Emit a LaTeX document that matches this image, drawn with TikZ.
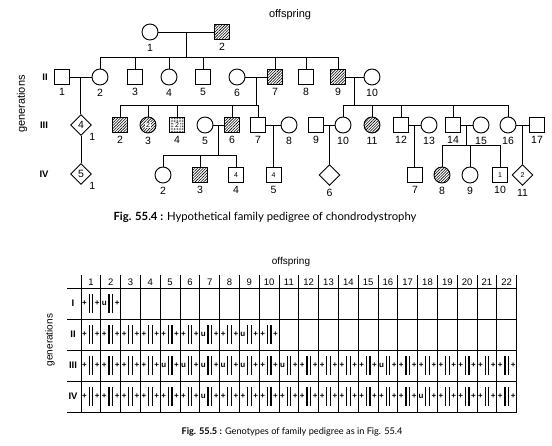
\documentclass[tikz,border=0pt]{standalone}
\usepackage{fontspec}
\setmainfont{Liberation Sans}
\newfontfamily\capfont{Lato}
\usetikzlibrary{shapes.geometric,patterns.meta}
\newcommand\wnum[1]{{\setlength\fboxsep{0.6pt}\colorbox{white}{\scriptsize#1}}}

\begin{document}
\begin{tikzpicture}[x=1pt, y=-1pt,
		font=\fontsize{10.5}{11}\selectfont,
		line width=0.95pt,
		label distance=2pt,
		every label/.style = {inner sep=1pt},
		M/.style = {rectangle, draw, minimum size=15pt, inner sep=0pt, label={below:#1}},% male
		F/.style = {circle, draw, minimum size=16pt, inner sep=0pt, label={below:#1}},% female
		D/.style = {diamond, draw, minimum size=21pt, inner sep=0pt},% sex unknown
		U/.style = {D, label={below:#1}},
		hatch/.style = {pattern={Lines[angle=45,distance=2pt,line width=0.6pt]}},
		dots/.style = {pattern={Dots[distance=1.6pt,radius=0.45pt]}},
		gen/.style = {font=\bfseries\fontsize{9.5}{10}\selectfont},
		pics/gt/.style = {code={% one genotype: allele || allele
				\draw[line width=1.2pt] (-1.8,-9.5) -- (-1.8,9.5) (1.8,-9.5) -- (1.8,9.5);
				\node[font=\bfseries\fontsize{8}{8}\selectfont, inner sep=0pt] (l) at (-6.4,0) {#1};
				\node[font=\bfseries\fontsize{8}{8}\selectfont, inner sep=0pt] (r) at (6.4,0) {+};
		}},
		]
		\useasboundingbox (0,0) rectangle (552,445);
		
		% ---------- Fig. 55.4 : pedigree ----------
		\node[font=\fontsize{11}{12}\selectfont] (off1) at (290,15) {offspring};
		\node[rotate=90, font=\fontsize{11}{12}\selectfont] (gen1) at (22,104) {generations};
		% generation I
		\node[F=1] (I1) at (150,32) {};
		\node[M=2,hatch] (I2) at (222,32) {};
		% generation II
		\node[gen] (gII) at (45,77) {II};
		\node[M=1] (II1) at (62,77) {};
		\node[F=2] (II2) at (100,77) {};
		\node[M=3] (II3) at (135,77) {};
		\node[F=4] (II4) at (169,77) {};
		\node[M=5] (II5) at (203,77) {};
		\node[F=6] (II6) at (237,77) {};
		\node[M=7,hatch] (II7) at (275,77) {};
		\node[M=8] (II8) at (306,77) {};
		\node[M=9,hatch] (II9) at (338,77) {};
		\node[F=10] (II10) at (372,77) {};
		% generation III
		\node[gen] (gIII) at (44,125) {III};
		\node[D, label={south east:1}] (III1) at (81,125) {4};
		\node[M=2,hatch] (III2) at (120,125) {};
		\node[F=3,hatch] (III3) at (148,125) {\wnum{2}};
		\node[M=4,dots] (III4) at (177,125) {\wnum{2}};
		\node[F=5] (III5) at (205,125) {};
		\node[M=6,hatch] (III6) at (232,125) {};
		\node[M=7] (III7) at (258,125) {};
		\node[F=8] (III8) at (289,125) {};
		\node[M=9] (III9) at (316,125) {};
		\node[F=10] (III10) at (343,125) {};
		\node[F=11,hatch] (III11) at (372,125) {};
		\node[M=12] (III12) at (401,125) {};
		\node[F=13] (III13) at (429,125) {};
		\node[M=14] (III14) at (453,125) {};
		\node[F=15] (III15) at (481,125) {};
		\node[F=16] (III16) at (508,125) {};
		\node[M=17] (III17) at (537,125) {};
		% generation IV
		\node[gen] (gIV) at (44,174) {IV};
		\node[D, label={south east:1}] (IV1) at (81,174) {5};
		\node[F=2] (IV2) at (163,175) {};
		\node[M=3,hatch] (IV3) at (200,175) {};
		\node[M=4] (IV4) at (236,175) {\scriptsize 4};
		\node[M=5] (IV5) at (273.5,175) {\scriptsize 4};
		\node[U=6] (IV6) at (329.5,175) {};
		\node[M=7] (IV7) at (415,175) {};
		\node[F=8,hatch] (IV8) at (442,175) {};
		\node[F=9] (IV9) at (470,175) {};
		\node[M=10] (IV10) at (500,175) {\scriptsize 1};
		\node[U=11] (IV11) at (522.5,175) {\scriptsize 2};
		
		% matings and sibships
		\draw (I1) -- coordinate (m1) (I2);
		\draw (m1) -- ++(0,25) coordinate (s1);
		\draw (s1 -| II2) -- (s1 -| II9);
		\foreach \c in {II2,II3,II4,II5,II7,II8,II9}
		\draw (s1 -| \c) -- (\c);
		
		\draw (II1) -- coordinate (m2) (II2);
		\draw (m2) -- (m2 |- III1.north);
		\draw (III1) -- (IV1);
		
		\draw (II6) -- coordinate (m3) (II7);
		\draw (m3) -- ++(0,28) coordinate (s3);
		\draw (s3 -| III2) -- (s3 -| III7);
		\foreach \c in {III2,III3,III4,III6,III7}
		\draw (s3 -| \c) -- (\c);
		
		\draw (II9) -- coordinate (m4) (II10);
		\draw (m4) -- ++(0,28) coordinate (s4);
		\draw (s4 -| III10) -- (s4 -| III16);
		\foreach \c in {III10,III11,III12,III14,III16}
		\draw (s4 -| \c) -- (\c);
		
		\draw (III5) -- coordinate (m5) (III6);
		\draw (m5) -- ++(0,30) coordinate (s5);
		\draw (s5 -| IV2) -- (s5 -| IV4);
		\foreach \c in {IV2,IV3,IV4}
		\draw (s5 -| \c) -- (\c);
		
		\draw (III7) -- coordinate (m6) (III8);
		\draw (m6) -- (m6 |- IV5.north);
		\draw (III9) -- coordinate (m7) (III10);
		\draw (m7) -- (m7 |- IV6.north);
		\draw (III12) -- coordinate (m8) (III13);
		\draw (m8) -- (m8 |- IV7.north);
		
		\draw (III14) -- coordinate (m9) (III15);
		\draw (m9) -- ++(0,20) coordinate (s9);
		\draw (s9 -| IV8) -- (s9 -| IV10);
		\foreach \c in {IV8,IV9,IV10}
		\draw (s9 -| \c) -- (\c);
		
		\draw (III16) -- coordinate (m10) (III17);
		\draw (m10) -- (m10 |- IV11.north);
		
		\node[font=\capfont\fontsize{11.3}{13}\selectfont] (cap1) at (265,217)
		{\textbf{Fig. 55.4 :} Hypothetical family pedigree of chondrodystrophy};
		
		% ---------- Fig. 55.5 : genotypes ----------
		\node[font=\fontsize{10}{11}\selectfont] (off2) at (291,262) {offspring};
		\node[rotate=90, font=\fontsize{10}{11}\selectfont] (gen2) at (50,340) {generations};
		\foreach \k in {0,...,22}
		\draw[line width=1pt] (81+19.8*\k,275) -- (81+19.8*\k,412);
		\foreach \y in {288,319,350,381,412}
		\draw[line width=1pt] (67,\y) -- (516.6,\y);
		\foreach \k in {1,...,22}
		\node[font=\fontsize{9.5}{10}\selectfont] (h\k) at (71.1+19.8*\k,282) {\k};
		\foreach \r/\y in {I/303.5,II/334.5,III/365.5,IV/396.5}
		\node[gen] (r\r) at (73,\y) {\r};
		% genotypes, row by row
		\foreach \s [count=\k] in {+,u}
		\pic at (71.1+19.8*\k,303.5) {gt=\s};
		\foreach \s [count=\k] in {+,+,+,+,+,+,u,+,u,+}
		\pic at (71.1+19.8*\k,334.5) {gt=\s};
		\foreach \s [count=\k] in {+,+,+,+,u,u,u,u,u,+,u,+,+,+,+,u,+,+,+,+,+,+}
		\pic at (71.1+19.8*\k,365.5) {gt=\s};
		\foreach \s [count=\k] in {+,+,+,+,+,+,u,+,+,+,+,+,+,+,+,+,+,u,+,+,+,+}
		\pic at (71.1+19.8*\k,396.5) {gt=\s};
		
		\node[font=\capfont\fontsize{9.2}{11}\selectfont] (cap2) at (292,432)
		{\textbf{Fig. 55.5 :} Genotypes of family pedigree as in Fig. 55.4};
	\end{tikzpicture}
\end{document}
